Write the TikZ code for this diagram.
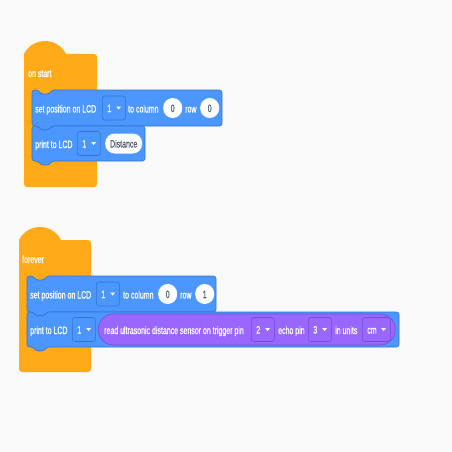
\documentclass[tikz,border=0pt]{standalone}
\usepackage{fontspec}
\newfontfamily\mcfont[FakeStretch=0.66,FakeBold=0.8]{Liberation Sans}
\usetikzlibrary{calc}
\definecolor{mcBack}{HTML}{F9F9F9}
\definecolor{mcOrange}{HTML}{FFAB19}
\definecolor{mcBlue}{HTML}{4C97FF}
\definecolor{mcBlueEdge}{HTML}{3373CC}
\definecolor{mcPurple}{HTML}{9966FF}
\definecolor{mcPurpleEdge}{HTML}{774DCB}
\definecolor{mcInk}{HTML}{575E75}

% stack block with notch on top and tab below: style, left, top, width, height
\newcommand\mcstack[5]{%
  \filldraw[#1,rounded corners=2.5pt] (#2,#3) -- ++(6,0) -- ++(3,4) -- ++(8,0) -- ++(3,-4)
    -- (#2+#4,#3) -- (#2+#4,#3+#5) -- (#2+20,#3+#5) -- ++(-3,4) -- ++(-8,0) -- ++(-3,-4)
    -- (#2,#3+#5) -- cycle;}
% hat block with its round cap: left, cap top, right, bottom
\newcommand\mchat[4]{%
  \fill[mcOrange,rounded corners=3pt] (#1,#2+13) rectangle (#3,#4);
  \fill[mcOrange] (#1,#2+19) -- (#1,#2+13) .. controls (#1+8.65,#2-4.3) and (#1+33.35,#2-4.3)
    .. (#1+42,#2+13) -- (#1+42,#2+19) -- cycle;}
\newcommand\mcarrow[1]{%
  \fill[white] ($(#1.east)+(-9.5,-1.5)$) -- ++(5,0) -- ++(-2.5,3) -- cycle;}

\begin{document}
\begin{tikzpicture}[x=1pt,y=-1pt,
  mctext/.style={font=\mcfont\fontsize{10.6}{13}\selectfont,text=white,inner sep=0pt,anchor=base west},
  mcdrop/.style={rectangle,rounded corners=2.5pt,line width=0.6pt,inner xsep=5pt,inner ysep=0pt,
    minimum height=24,text height=8,text depth=0,text width=13,align=left,anchor=west,
    font=\mcfont\fontsize{10.6}{13}\selectfont,text=white},
  bluedrop/.style={mcdrop,fill=mcBlue,draw=mcBlueEdge},
  purpledrop/.style={mcdrop,fill=mcPurple,draw=mcPurpleEdge},
  mcoval/.style={rectangle,fill=white,rounded corners=9.5pt,inner sep=0pt,minimum width=19,
    minimum height=20,text height=8,text depth=0,anchor=west,
    font=\mcfont\fontsize{10.6}{13}\selectfont,text=mcInk},
  blueblock/.style={fill=mcBlue,draw=mcBlueEdge,line width=0.6pt}]
  \fill[mcBack] (0,0) rectangle (452,452);
  \useasboundingbox (0,0) rectangle (452,452);

  % on start
  \mchat{24}{41}{97}{187}
  \mcstack{blueblock}{32}{90}{190}{36}
  \mcstack{blueblock}{32}{126}{113}{35}
  \node[mctext] (onstart) at (28,77) {on start};
  \node[mctext] (setA) at (35,112.5) {set position on LCD};
  \node[bluedrop] (lcdA) at (102,108) {1};
  \node[mctext] (colA) at (128,112.5) {to column};
  \node[mcoval] (colvalA) at (163,108) {0};
  \node[mctext] (rowA) at (185,112.5) {row};
  \node[mcoval] (rowvalA) at (200,108) {0};
  \node[mctext] (printA) at (35,148) {print to LCD};
  \node[bluedrop] (lcdB) at (77,143.5) {1};
  \node[mcoval,minimum width=37] (textA) at (105,143.5) {Distance};

  % forever
  \mchat{19}{227}{91}{372}
  \mcstack{blueblock}{27}{276}{189}{36}
  \mcstack{blueblock}{27}{312}{372}{35}
  \node[mctext] (forever) at (22,263) {forever};
  \node[mctext] (setB) at (30,298.5) {set position on LCD};
  \node[bluedrop] (lcdC) at (96,294) {1};
  \node[mctext] (colB) at (123,298.5) {to column};
  \node[mcoval] (colvalB) at (158,294) {0};
  \node[mctext] (rowB) at (180,298.5) {row};
  \node[mcoval] (rowvalB) at (195,294) {1};
  \node[mctext] (printB) at (30,334) {print to LCD};
  \node[bluedrop] (lcdD) at (72,329.5) {1};
  \node[rectangle,fill=mcPurple,draw=mcPurpleEdge,line width=0.6pt,rounded corners=15pt,
    minimum width=297,minimum height=31,anchor=west] (sonar) at (98,329.5) {};
  \node[mctext] (sonartxt) at (104,334) {read ultrasonic distance sensor on trigger pin};
  \node[purpledrop] (trigpin) at (251,329.5) {2};
  \node[mctext] (echotxt) at (278,334) {echo pin};
  \node[purpledrop] (echopin) at (308,329.5) {3};
  \node[mctext] (unittxt) at (335,334) {in units};
  \node[purpledrop,text width=18] (units) at (362,329.5) {cm};

  \foreach \d in {lcdA,lcdB,lcdC,lcdD,trigpin,echopin,units}
    {\mcarrow{\d}}
\end{tikzpicture}
\end{document}
